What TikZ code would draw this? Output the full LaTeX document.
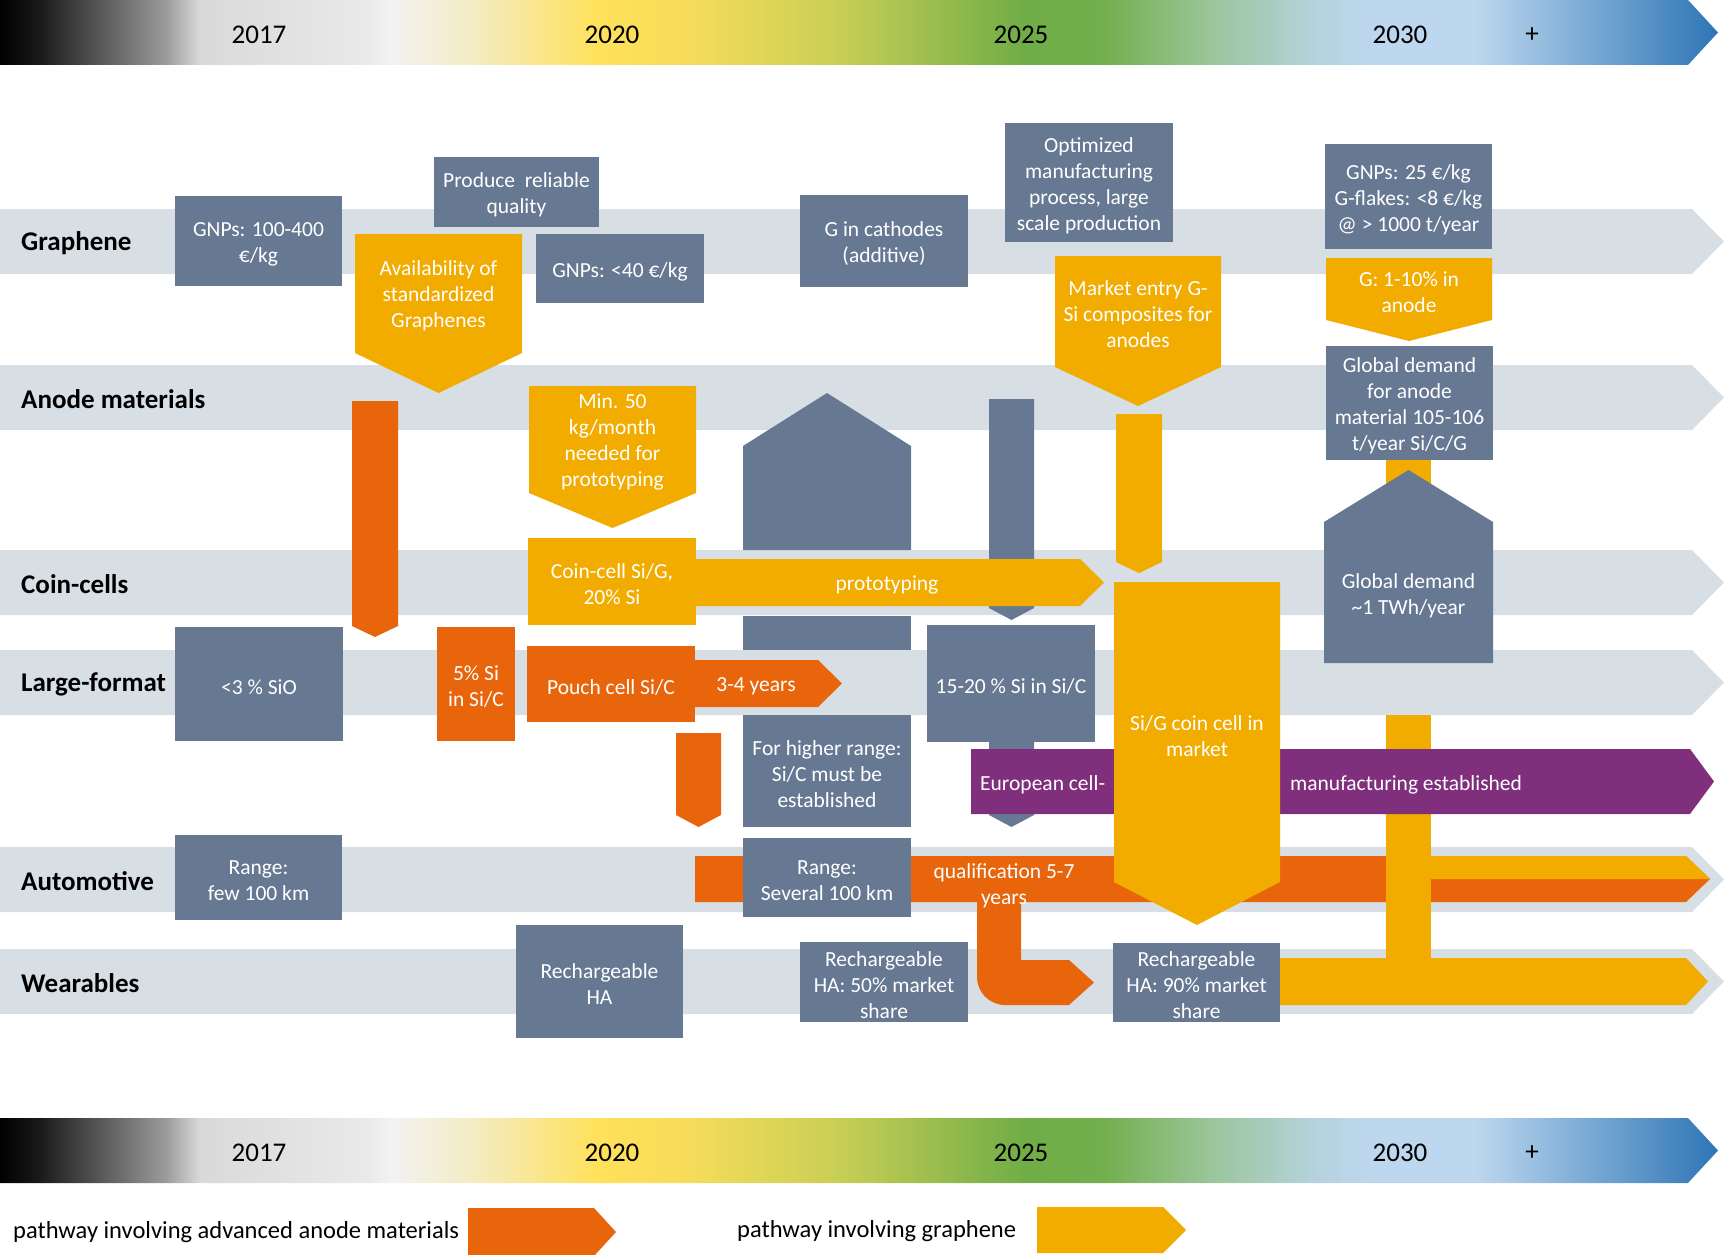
\documentclass[tikz,border=0pt]{standalone}
\usepackage{fontspec}
\setmainfont{Carlito}
\definecolor{slate}{RGB}{102,120,146}
\definecolor{gold}{RGB}{242,172,0}
\definecolor{rust}{RGB}{232,101,12}
\definecolor{plum}{RGB}{127,47,123}
\definecolor{bandgray}{RGB}{215,222,228}
\definecolor{tla}{HTML}{000000}
\definecolor{tlb}{HTML}{1A1A1A}
\definecolor{tlc}{HTML}{9A9A9A}
\definecolor{tld}{HTML}{D9D9D9}
\definecolor{tle}{HTML}{EAEAEA}
\definecolor{tlf}{HTML}{F2F2F2}
\definecolor{tlg}{HTML}{F3ECC5}
\definecolor{tlh}{HTML}{FFE15A}
\definecolor{tli}{HTML}{F6DC5A}
\definecolor{tlj}{HTML}{C9CF55}
\definecolor{tlk}{HTML}{70AD47}
\definecolor{tll}{HTML}{72AE4C}
\definecolor{tlm}{HTML}{9AC59A}
\definecolor{tln}{HTML}{B6D3E0}
\definecolor{tlo}{HTML}{BDD7EE}
\definecolor{tlp}{HTML}{2E75B6}
\pgfdeclarehorizontalshading{timeline}{100bp}{color(0bp)=(tla); color(25bp)=(tla); color(26.16bp)=(tlb); color(29.8bp)=(tlc); color(30.82bp)=(tld); color(35.77bp)=(tle); color(36.35bp)=(tlf); color(38.68bp)=(tlg); color(42.46bp)=(tlh); color(45.08bp)=(tli); color(49.33bp)=(tlj); color(54.83bp)=(tlk); color(57.01bp)=(tll); color(60.22bp)=(tlm); color(63.42bp)=(tln); color(65.02bp)=(tlo); color(67.93bp)=(tlo); color(75bp)=(tlp); color(100bp)=(tlp)}
\begin{document}
\begin{tikzpicture}[x=1pt,y=-1pt,
  every node/.style={font=\fontsize{21.5}{26}\selectfont,align=center,inner sep=0pt,text=white},
  yearlabel/.style={font=\fontsize{27}{30}\selectfont,text=black,yshift=-2pt},
  rowlabel/.style={font=\fontsize{27}{30}\selectfont\bfseries,text=black,anchor=west,yshift=-2pt},
  legendtext/.style={font=\fontsize{24.5}{28}\selectfont,text=black,anchor=west},
  shifted/.style={yshift=-3pt}]
  \useasboundingbox (0,0) rectangle (1725,1255);
  % timelines
  \shade[shading=timeline] (0,0) -- (1688,0) -- (1718,32.5) -- (1688,65) -- (0,65) -- cycle;
  \shade[shading=timeline] (0,1118) -- (1688,1118) -- (1718,1150.5) -- (1688,1183) -- (0,1183) -- cycle;
  \foreach \yr/\xx/\nm in {2017/259/a,2020/612/b,2025/1021/c,2030/1400/d,+/1532/e} {
    \node[yearlabel] (top\nm) at (\xx,33) {\yr};
    \node[yearlabel] (bot\nm) at (\xx,1151) {\yr};
  }
  % rows
  \foreach \yb/\nm/\txt in {209/graphene/Graphene,365/anode/Anode materials,550/coin/Coin-cells,650/large/Large-format,847/auto/Automotive,949/wear/Wearables} {
    \fill[bandgray] (0,\yb) -- (1692,\yb) -- (1724,\yb+32.5) -- (1692,\yb+65) -- (0,\yb+65) -- cycle;
    \node[rowlabel] (row\nm) at (21,\yb+32.5) {\txt};
  }
  % long pathways
  \fill[rust] (695,856) -- (1686,856) -- (1710,879) -- (1686,902) -- (695,902) -- cycle;
  \fill[gold] (1431,856) -- (1686,856) -- (1710,879) -- (1431,879) -- cycle;
  \fill[gold] (1386,459) rectangle (1431,500);
  \fill[gold] (1386,715) rectangle (1431,982);
  \fill[gold] (1280,958) -- (1686,958) -- (1708,981.5) -- (1686,1005) -- (1280,1005) -- cycle;
  \fill[rust] (977,895) -- (1021,895) -- (1021,960) -- (1069,960) -- (1094,982.5) -- (1069,1005) -- (1005,1005) arc[start angle=90,end angle=180,radius=28] -- cycle;
  \node[shifted] (qualification) at (1004,883) {qualification 5-7\\years};
  \fill[slate] (989,399) -- (1034,399) -- (1034,608) -- (1011.5,620) -- (989,608) -- cycle;
  \fill[slate] (989,742) -- (1034,742) -- (1034,815) -- (1011.5,827) -- (989,815) -- cycle;
  \fill[gold] (696,559) -- (1080,559) -- (1104,582.5) -- (1080,606) -- (696,606) -- cycle;
  \node[shifted] (prototyping) at (887,582) {prototyping};
  \fill[plum] (971,749) -- (1690,749) -- (1714,781.5) -- (1690,814) -- (971,814) -- cycle;
  \node[shifted,anchor=west] (european) at (980,781.5) {European cell-};
  \node[shifted,anchor=west] (manufacturing) at (1290,781.5) {manufacturing established};
  \fill[gold] (1114,582) -- (1280,582) -- (1280,882) -- (1197,925) -- (1114,882) -- cycle;
  \node[shifted] (sigcoin) at (1197,733) {Si/G coin cell in\\market};
  % houses
  \fill[slate] (743,550) -- (743,446) -- (827,393) -- (911,446) -- (911,550) -- cycle;
  \fill[slate] (743,616) rectangle (911,650);
  \fill[slate] (1324,663) -- (1324,522) -- (1408.5,470) -- (1493,522) -- (1493,663) -- cycle;
  \node[shifted] (demandcell) at (1408.5,593) {Global demand\\\textasciitilde1 TWh/year};
  % graphene pathway
  \fill[gold] (355,234) -- (522,234) -- (522,353) -- (438.5,393) -- (355,353) -- cycle;
  \node[shifted] (availability) at (438.5,293) {Availability of\\standardized\\Graphenes};
  \fill[gold] (1055,256) -- (1221,256) -- (1221,367) -- (1138,406) -- (1055,367) -- cycle;
  \node[shifted] (marketentry) at (1138,311) {Market entry G-\\Si composites for\\anodes};
  \fill[gold] (1326,258) -- (1492,258) -- (1492,320) -- (1409,341) -- (1326,320) -- cycle;
  \node[shifted] (gshare) at (1409,289) {G: 1-10\% in\\anode};
  \fill[gold] (529,386) -- (696,386) -- (696,493) -- (612.5,528) -- (529,493) -- cycle;
  \node[shifted] (minfifty) at (612.5,439) {Min. 50\\kg/month\\needed for\\prototyping};
  \fill[gold] (1116,414) -- (1162,414) -- (1162,562) -- (1139,573) -- (1116,562) -- cycle;
  \fill[gold] (528,538) rectangle (696,625);
  \node[shifted] (coincell) at (612,581.5) {Coin-cell Si/G,\\20\% Si};
  % anode pathway
  \fill[rust] (352,401) -- (398,401) -- (398,626) -- (375,637) -- (352,626) -- cycle;
  \fill[rust] (437,627) rectangle (515,741);
  \node[shifted] (sifive) at (476,684) {5\% Si\\in Si/C};
  \fill[rust] (695,660) -- (818,660) -- (842,683.5) -- (818,707) -- (695,707) -- cycle;
  \node[shifted] (threefour) at (756,683.5) {3-4 years};
  \fill[rust] (527,646) rectangle (695,722);
  \node[shifted] (pouch) at (611,684) {Pouch cell Si/C};
  \fill[rust] (676,733) -- (721,733) -- (721,815) -- (698.5,827) -- (676,815) -- cycle;
  % milestones
  \fill[slate] (175,196) rectangle (342,286);
  \node[shifted] (gnpscost) at (258.5,241) {GNPs: 100-400\\€/kg};
  \fill[slate] (434,157) rectangle (599,227);
  \node[shifted] (reliable) at (516.5,192) {Produce~ reliable\\quality};
  \fill[slate] (536,234) rectangle (704,303);
  \node[shifted] (gnpslow) at (620,268.5) {GNPs: <40 €/kg};
  \fill[slate] (800,195) rectangle (968,287);
  \node[shifted] (cathodes) at (884,241) {G in cathodes\\(additive)};
  \fill[slate] (1005,123) rectangle (1173,242);
  \node[shifted] (optimized) at (1089,182.5) {Optimized\\manufacturing\\process, large\\scale production};
  \fill[slate] (1325,144) rectangle (1492,249);
  \node[shifted] (gnpstarget) at (1408.5,196.5) {GNPs: 25 €/kg\\G-flakes: <8 €/kg\\@ > 1000 t/year};
  \fill[slate] (1326,346) rectangle (1493,460);
  \node[shifted] (demandanode) at (1409.5,403) {Global demand\\for anode\\material 105-106\\t/year Si/C/G};
  \fill[slate] (175,627) rectangle (343,741);
  \node[shifted] (sio) at (259,684) {<3 \% SiO};
  \fill[slate] (927,625) rectangle (1095,742);
  \node[shifted] (sififteen) at (1011,683.5) {15-20 \% Si in Si/C};
  \fill[slate] (743,715) rectangle (911,827);
  \node[shifted] (highrange) at (827,771) {For higher range:\\Si/C must be\\established};
  \fill[slate] (175,835) rectangle (342,920);
  \node[shifted] (rangefew) at (258.5,877.5) {Range:\\few 100 km};
  \fill[slate] (743,838) rectangle (911,917);
  \node[shifted] (rangeseveral) at (827,877.5) {Range:\\Several 100 km};
  \fill[slate] (516,925) rectangle (683,1038);
  \node[shifted] (harech) at (599.5,981.5) {Rechargeable\\HA};
  \fill[slate] (800,942) rectangle (968,1022);
  \node[shifted] (hafifty) at (884,982) {Rechargeable\\HA: 50\% market\\share};
  \fill[slate] (1113,943) rectangle (1280,1022);
  \node[shifted] (haninety) at (1196.5,982.5) {Rechargeable\\HA: 90\% market\\share};
  % legend
  \node[legendtext] (legendanode) at (13,1232) {pathway involving advanced anode materials};
  \fill[rust] (468,1208) -- (594,1208) -- (616,1232) -- (594,1256) -- (468,1256) -- cycle;
  \node[legendtext] (legendgraphene) at (737,1231) {pathway involving graphene};
  \fill[gold] (1037,1207) -- (1163,1207) -- (1186,1230) -- (1163,1253) -- (1037,1253) -- cycle;
\end{tikzpicture}
\end{document}
